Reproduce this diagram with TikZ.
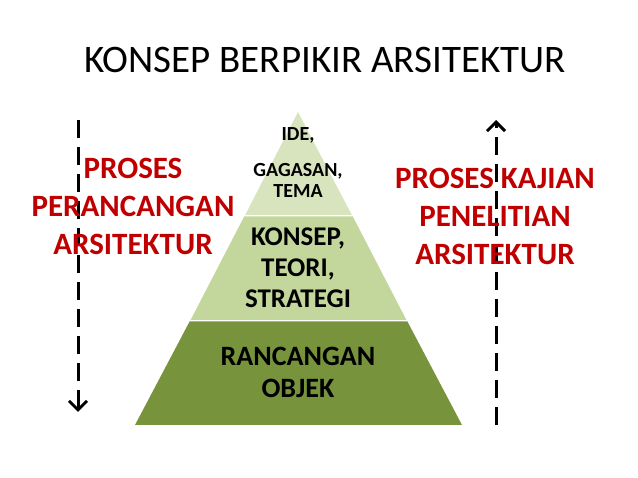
\documentclass[tikz,border=0pt]{standalone}
\usepackage{fontspec}
\setmainfont{Carlito}
\usetikzlibrary{arrows.meta}
\definecolor{band1}{HTML}{D7E4BD}
\definecolor{band2}{HTML}{C3D69B}
\definecolor{band3}{HTML}{77933C}
\definecolor{redt}{HTML}{C00000}
\tikzset{
 redtxt/.style={text=redt,font=\bfseries\fontsize{31}{38}\selectfont,align=center,inner sep=0pt},
 pyr/.style={font=\bfseries\fontsize{27}{31}\selectfont,align=center,inner sep=0pt},
 darr/.style={line width=3pt,dash pattern=on 18pt off 9pt,-{Straight Barb[length=9pt,width=18pt,line width=3pt]}}
}
\begin{document}
\begin{tikzpicture}[x=1pt,y=-1pt]
\useasboundingbox (0,0) rectangle (638,478);
\node (title) at (325,60) {\fontsize{39}{44}\selectfont KONSEP BERPIKIR ARSITEKTUR};
\fill[band1] (298,112) -- (245.2,215) -- (351.8,215) -- cycle;
\fill[band2] (244.2,216.5) -- (352.8,216.5) -- (406.4,320) -- (190.6,320) -- cycle;
\fill[band3] (189.6,321.5) -- (407.4,321.5) -- (462,425) -- (135,425) -- cycle;
\node[pyr,font=\bfseries\fontsize{20}{24}\selectfont] (t1) at (298,135) {IDE,};
\node[pyr,font=\bfseries\fontsize{20}{21}\selectfont] (t2) at (298,180) {GAGASAN,\\TEMA};
\node[pyr] (t3) at (298,268) {KONSEP,\\TEORI,\\STRATEGI};
\node[pyr,font=\bfseries\fontsize{28}{32}\selectfont] (t4) at (298,372) {RANCANGAN\\OBJEK};
\coordinate (la) at (78,120); \coordinate (lb) at (78,412);
\coordinate (ra) at (496,425); \coordinate (rb) at (496,120);
\draw[darr] (la) -- (lb);
\draw[darr] (ra) -- (rb);
\node[redtxt] (lt) at (133,206) {PROSES\\PERANCANGAN\\ARSITEKTUR};
\node[redtxt] (rt) at (495,216) {PROSES KAJIAN\\PENELITIAN\\ARSITEKTUR};
\end{tikzpicture}
\end{document}
